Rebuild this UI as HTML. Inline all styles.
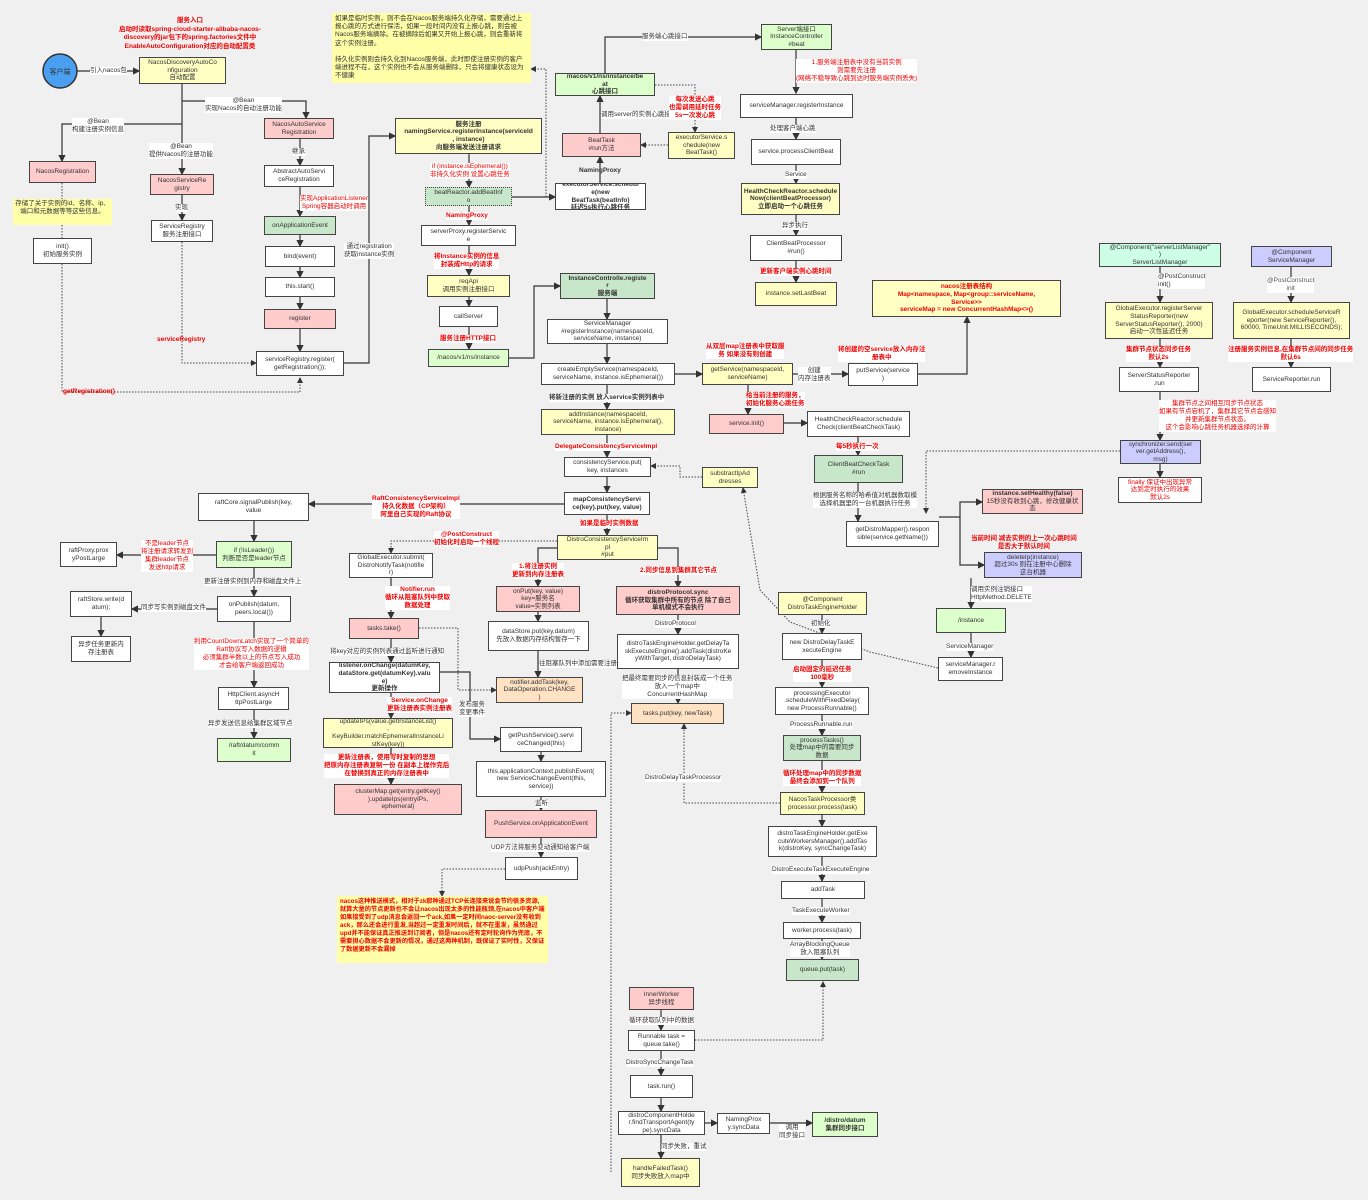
<!DOCTYPE html>
<html><head><meta charset="utf-8">
<style>
html,body{margin:0;padding:0}
body{width:1368px;height:1200px;background:#f0f0f0;position:relative;overflow:hidden;font-family:"Liberation Sans","Noto Sans CJK SC",sans-serif;}
.b{position:absolute;box-sizing:border-box;border:1.5px solid #444;background:#fff;display:flex;align-items:center;justify-content:center;text-align:center;font-size:6.5px;line-height:7.6px;color:#333;overflow:hidden;padding:0 1px;word-break:break-all}
.y{background:#ffffc4}.p{background:#ffcccc}.g{background:#c8e6c9}.lg{background:#ddffcc}.bl{background:#ccccff}.m{background:#ccffe6}.o{background:#ffe2c4}
.bd{font-weight:bold}
.l{position:absolute;font-size:6.5px;line-height:8px;color:#333;text-align:center;background:#fff;white-space:nowrap}
.r{color:#e00;font-weight:bold}
.n{position:absolute;background:#ffffa8;font-size:6.5px;line-height:8.2px;color:#333;padding:2px 3px;box-sizing:border-box}
svg{position:absolute;left:0;top:0}
</style></head><body>
<svg width="1368" height="1200">
<defs><marker id="a" markerWidth="6" markerHeight="6" refX="5" refY="3" orient="auto"><path d="M0,0 L6,3 L0,6 z" fill="#333"/></marker></defs>
<g fill="none" stroke="#333" stroke-width="1.2" marker-end="url(#a)">
<path d="M77,71 H139"/><path d="M182,84 V174"/><path d="M182,101 H306 V118"/><path d="M182,124 H62 V161"/>
<path d="M182,195 V220"/><path d="M300,139 V165"/><path d="M300,187 V216"/><path d="M300,235 V246"/><path d="M300,267 V277"/><path d="M300,297 V309"/><path d="M300,329 V351"/>
<path d="M344,363 H369 V136 H395"/><path d="M469,154 V187"/><path d="M469,206 V225"/><path d="M469,246 V275"/><path d="M469,297 V306"/><path d="M469,327 V349"/>
<path d="M509,358 H534 V286 H560"/><path d="M512,197 H555"/><path d="M600,183 V157"/><path d="M600,133 V96"/><path d="M605,73 V37 H761"/>
<path d="M796,50 V93"/><path d="M796,118 V139"/><path d="M796,165 V183"/><path d="M796,215 V235"/><path d="M796,261 V282"/>
<path d="M607,299 V319"/><path d="M607,344 V363"/><path d="M607,385 V409"/><path d="M607,435 V457"/><path d="M607,477 V492"/><path d="M607,515 V535"/>
<path d="M675,374 H702"/><path d="M793,374 H848"/><path d="M918,374 H967 V317"/><path d="M748,385 V414"/><path d="M784,423 H807"/><path d="M858,437 V455"/><path d="M858,483 V521"/>
<path d="M939,517 H960 V502 H982"/><path d="M960,517 V565 H984"/><path d="M971,578 V608"/><path d="M971,633 V657"/>
<path d="M1160,267 V302"/><path d="M1160,339 V367"/><path d="M1160,392 V440"/><path d="M1160,464 V477"/><path d="M1291,267 V302"/><path d="M1291,339 V367"/>
<path d="M566,504 H309"/><path d="M557,548 H538 V586"/><path d="M658,548 H678 V587"/>
<path d="M254,521 V541"/><path d="M216,555 H117"/><path d="M254,568 V596"/><path d="M217,609 H132"/><path d="M101,617 V636"/><path d="M254,622 V687"/><path d="M254,710 V738"/>
<path d="M391,578 V618"/><path d="M391,639 V662"/><path d="M391,693 V718"/><path d="M391,748 V784"/><path d="M440,672 H470 V739 H500"/>
<path d="M538,612 V621"/><path d="M538,651 V677"/><path d="M541,752 V761"/><path d="M541,797 V810"/><path d="M541,838 V857"/>
<path d="M678,615 V634"/><path d="M678,669 V703"/>
<path d="M822,615 V633"/><path d="M822,660 V687"/><path d="M822,715 V735"/><path d="M822,761 V792"/><path d="M822,815 V826"/><path d="M822,857 V881"/><path d="M822,899 V922"/><path d="M822,939 V959"/>
<path d="M661,1010 V1030"/><path d="M661,1051 V1075"/><path d="M661,1098 V1111"/><path d="M661,1135 V1158"/><path d="M705,1123 H717"/><path d="M770,1123 H812"/>
</g>
<g fill="none" stroke="#444" stroke-width="1" stroke-dasharray="1.5,1.5" marker-end="url(#a)">
<path d="M62,183 V392 H300 V378"/><path d="M182,242 V363 H256"/><path d="M546,197 V69 H531"/>
<path d="M655,85 H695 V132"/><path d="M668,145 H641"/>
<path d="M1120,451 H926 V513"/><path d="M702,477 H680 V466 H651"/><path d="M938,668 L870,652 L790,622 L760,590 L743,488"/>
<path d="M557,541 H391 V553"/><path d="M419,628 H458 V690 H496"/><path d="M505,869 H442 V896"/>
<path d="M611,1172 V713 H631"/><path d="M780,803 H684 V724"/><path d="M695,1040 H823 V982"/>
</g>
<circle cx="60" cy="71" r="17" fill="#4a9ff0" stroke="#333" stroke-width="1.5"/>
<text x="60" y="74" font-size="7" text-anchor="middle" fill="#333" font-family="Liberation Sans, Noto Sans CJK SC, sans-serif">客户端</text>
</svg>

<div class="l r" style="left:110px;top:17px;width:160px;background:none;line-height:8.7px">服务入口<br>启动时读取spring-cloud-starter-alibaba-nacos-<br>discovery的jar包下的spring.factories文件中<br>EnableAutoConfiguration对应的自动配置类</div>
<div class="l" style="left:90px;top:67px">引入nacos包</div>
<div class="b y" style="left:139px;top:57px;width:87px;height:27px">NacosDiscoveryAutoCo<br>nfiguration<br>自动配置</div>
<div class="l" style="left:205px;top:97px">@Bean<br>实现Nacos的自动注册功能</div>
<div class="l" style="left:72px;top:118px">@Bean<br>构建注册实例信息</div>
<div class="l" style="left:149px;top:143px">@Bean<br>提供Nacos的注册功能</div>
<div class="b p" style="left:29px;top:161px;width:67px;height:22px">NacosRegistration</div>
<div class="n" style="left:13px;top:199px;width:99px;height:26px;text-align:center;padding:1px">存储了关于实例的id、名称、ip、端口和元数据等等这些信息。</div>
<div class="b" style="left:33px;top:238px;width:59px;height:26px">init()<br>初始服务实例</div>
<div class="b p" style="left:150px;top:174px;width:64px;height:21px">NacosServiceRe<br>gistry</div>
<div class="l" style="left:175px;top:204px">实现</div>
<div class="b" style="left:151px;top:220px;width:62px;height:22px">ServiceRegistry<br>服务注册接口</div>
<div class="b p" style="left:264px;top:118px;width:70px;height:21px">NacosAutoService<br>Registration</div>
<div class="l" style="left:292px;top:148px">继承</div>
<div class="b" style="left:264px;top:165px;width:70px;height:22px">AbstractAutoServi<br>ceRegistration</div>
<div class="l" style="left:300px;top:195px;color:#e00">实现ApplicationListener<br>Spring容器启动时调用</div>
<div class="b g" style="left:264px;top:216px;width:72px;height:19px">onApplicationEvent</div>
<div class="b" style="left:265px;top:246px;width:70px;height:21px">bind(event)</div>
<div class="b" style="left:265px;top:277px;width:70px;height:20px">this.start()</div>
<div class="b p" style="left:264px;top:309px;width:72px;height:20px">register</div>
<div class="l" style="left:344px;top:243px">通过registration<br>获取instance实例</div>
<div class="l r" style="left:157px;top:336px;background:none">serviceRegistry</div>
<div class="b" style="left:256px;top:351px;width:88px;height:25px">serviceRegistry.register(<br>getRegistration());</div>
<div class="l r" style="left:63px;top:388px;background:none">getRegistration()</div>

<div class="n" style="left:332px;top:13px;width:199px;height:70px">如果是临时实例，则不会在Nacos服务端持久化存储，需要通过上报心跳的方式进行保活，如果一段时间内没有上报心跳，则会被Nacos服务端摘除。在被摘除后如果又开始上报心跳，则会重新将这个实例注册。<br><br>持久化实例则会持久化到Nacos服务端，此时即使注册实例的客户端进程不在，这个实例也不会从服务端删除，只会将健康状态设为不健康</div>
<div class="b y bd" style="left:395px;top:118px;width:147px;height:36px">服务注册<br>namingService.registerInstance(serviceId<br>, instance)<br>向服务端发送注册请求</div>
<div class="l" style="left:430px;top:163px;color:#e00">if (instance.isEphemeral())<br>非持久化实例 设置心跳任务</div>
<div class="b g" style="left:425px;top:187px;width:87px;height:19px;border-style:dotted">beatReactor.addBeatInf<br>o</div>
<div class="l r" style="left:446px;top:212px">NamingProxy</div>
<div class="b" style="left:421px;top:225px;width:95px;height:21px">serverProxy.registerServic<br>e</div>
<div class="l r" style="left:434px;top:253px">将Instance实例的信息<br>封装成Http的请求</div>
<div class="b y" style="left:427px;top:275px;width:83px;height:22px">reqApi<br>调用实例注册接口</div>
<div class="b" style="left:439px;top:306px;width:59px;height:21px">callServer</div>
<div class="l r" style="left:440px;top:335px">服务注册HTTP接口</div>
<div class="b lg" style="left:428px;top:349px;width:81px;height:18px">/nacos/v1/ns/instance</div>

<div class="b lg bd" style="left:555px;top:73px;width:100px;height:23px">/nacos/v1/ns/instance/be<br>at<br>心跳接口</div>
<div class="l" style="left:642px;top:33px">服务端心跳接口</div>
<div class="l" style="left:601px;top:111px">调用server的实例心跳接口</div>
<div class="l r" style="left:669px;top:96px">每次发送心跳<br>也需调用延时任务<br>5s一次发心跳</div>
<div class="b p" style="left:562px;top:133px;width:79px;height:24px">BeatTask<br>#run方法</div>
<div class="b y" style="left:668px;top:132px;width:67px;height:27px">executorService.s<br>chedule(new<br>BeatTask()</div>
<div class="l bd" style="left:579px;top:167px;background:none">NamingProxy</div>
<div class="b bd" style="left:555px;top:183px;width:91px;height:27px">executorService.schedul<br>e(new<br>BeatTask(beatInfo)<br>延迟5s执行心跳任务</div>
<div class="b lg" style="left:761px;top:24px;width:71px;height:26px">Server端接口<br>InstanceController<br>#beat</div>
<div class="l" style="left:796px;top:59px;color:#e00">1.服务端注册表中没有当前实例<br>则需要先注册<br>(网络不稳导致心跳到达时服务端实例丢失)</div>
<div class="b" style="left:740px;top:94px;width:113px;height:24px">serviceManager.registerInstance</div>
<div class="l" style="left:770px;top:125px">处理客户端心跳</div>
<div class="b" style="left:751px;top:139px;width:90px;height:26px">service.processClientBeat</div>
<div class="l" style="left:785px;top:171px">Service</div>
<div class="b y bd" style="left:741px;top:183px;width:99px;height:32px">HealthCheckReactor.schedule<br>Now(clientBeatProcessor)<br>立即启动一个心跳任务</div>
<div class="l" style="left:782px;top:222px">异步执行</div>
<div class="b" style="left:750px;top:235px;width:92px;height:26px">ClientBeatProcessor<br>#run()</div>
<div class="l r" style="left:760px;top:268px">更新客户端实例心跳时间</div>
<div class="b y" style="left:755px;top:282px;width:82px;height:24px">instance.setLastBeat</div>

<div class="b g bd" style="left:560px;top:273px;width:95px;height:26px">InstanceControlle.registe<br>r<br>服务端</div>
<div class="b" style="left:547px;top:319px;width:121px;height:25px">ServiceManager<br>#registerInstance(namespaceId,<br>serviceName, instance)</div>
<div class="b" style="left:541px;top:363px;width:134px;height:22px">createEmptyService(namespaceId,<br>serviceName, instance.isEphemeral())</div>
<div class="l" style="left:549px;top:394px;font-weight:bold">将新注册的实例 放入service实例列表中</div>
<div class="b y" style="left:541px;top:409px;width:134px;height:26px">addInstance(namespaceId,<br>serviceName, instance.isEphemeral(),<br>instance)</div>
<div class="l r" style="left:555px;top:443px">DelegateConsistencyServiceImpl</div>
<div class="b" style="left:564px;top:457px;width:87px;height:20px">consistencyService.put(<br>key, instances</div>
<div class="b bd" style="left:564px;top:492px;width:86px;height:23px">mapConsistencyServi<br>ce(key).put(key, value)</div>
<div class="l r" style="left:580px;top:520px">如果是临时实例数据</div>
<div class="b y" style="left:557px;top:535px;width:101px;height:25px">DistroConsistencyServiceIm<br>pl<br>#put</div>
<div class="b y" style="left:702px;top:467px;width:56px;height:21px">substractIpAd<br>dresses</div>
<div class="l r" style="left:706px;top:343px">从双层map注册表中获取服<br>务 如果没有则创建</div>
<div class="b y" style="left:702px;top:363px;width:91px;height:22px">getService(namespaceId,<br>serviceName)</div>
<div class="l" style="left:798px;top:367px">创建<br>内存注册表</div>
<div class="l r" style="left:838px;top:346px">将创建的空service放入内存注<br>册表中</div>
<div class="b" style="left:848px;top:363px;width:70px;height:23px">putService(service<br>)</div>
<div class="b y r" style="left:872px;top:280px;width:189px;height:37px">nacos注册表结构<br>Map&lt;namespace, Map&lt;group::serviceName,<br>Service&gt;&gt;<br>serviceMap = new ConcurrentHashMap&lt;&gt;()</div>
<div class="l r" style="left:746px;top:392px">给当前注册的服务，<br>初始化服务心跳任务</div>
<div class="b p" style="left:709px;top:414px;width:75px;height:20px">service.init()</div>
<div class="b" style="left:807px;top:411px;width:103px;height:26px">HealthCheckReactor.schedule<br>Check(clientBeatCheckTask)</div>
<div class="l r" style="left:836px;top:443px">每5秒执行一次</div>
<div class="b g" style="left:814px;top:455px;width:89px;height:28px">ClientBeatCheckTask<br>#run</div>
<div class="l" style="left:813px;top:492px">根据服务名称的哈希值对机器数取模<br>选择机器里的一台机器执行任务</div>
<div class="b" style="left:846px;top:521px;width:93px;height:26px">getDistroMapper().respon<br>sible(service.getName())</div>
<div class="b p" style="left:982px;top:489px;width:101px;height:25px"><span><b>instance.setHealthy(false)</b><br>15秒没有收到心跳，修改健康状态</span></div>
<div class="l r" style="left:971px;top:535px;background:none">当前时间 减去实例的上一次心跳时间<br>是否大于默认时间</div>
<div class="b bl" style="left:984px;top:552px;width:98px;height:26px">deleteIp(instance)<br>超过30s 则在注册中心删除<br>这台机器</div>
<div class="l" style="left:971px;top:586px;text-align:left">调用实例注销接口<br>HttpMethod.DELETE</div>
<div class="b lg" style="left:936px;top:608px;width:70px;height:25px">/instance</div>
<div class="l" style="left:946px;top:643px">ServiceManager</div>
<div class="b" style="left:938px;top:657px;width:65px;height:24px">serviceManager.r<br>emoveInstance</div>

<div class="b m" style="left:1099px;top:243px;width:122px;height:24px">@Component("serverListManager"<br>)<br>ServerListManager</div>
<div class="l" style="left:1158px;top:273px;text-align:left">@PostConstruct<br>init()</div>
<div class="b y" style="left:1105px;top:302px;width:108px;height:37px">GlobalExecutor.registerServer<br>StatusReporter(new<br>ServerStatusReporter(), 2000)<br>启动一次性延迟任务</div>
<div class="l r" style="left:1126px;top:346px">集群节点状态同步任务<br>默认2s</div>
<div class="b" style="left:1119px;top:367px;width:80px;height:25px">ServerStatusReporter<br>.run</div>
<div class="l" style="left:1159px;top:400px;color:#e00">集群节点之间相互同步节点状态<br>如果有节点宕机了，集群其它节点会感知<br>并更新集群节点状态。<br>这个会影响心跳任务机器选择的计算</div>
<div class="b bl" style="left:1120px;top:440px;width:81px;height:24px">synchronizer.send(ser<br>ver.getAddress(),<br>msg)</div>
<div class="b" style="left:1118px;top:477px;width:84px;height:26px;color:#e00">finally 保证中出现异常<br>达到定时执行的效果<br>默认2s</div>
<div class="b bl" style="left:1251px;top:246px;width:81px;height:21px">@Component<br>ServiceManager</div>
<div class="l" style="left:1267px;top:277px;color:#555">@PostConstruct<br>init</div>
<div class="b y" style="left:1233px;top:302px;width:117px;height:37px">GlobalExecutor.scheduleServiceR<br>eporter(new ServiceReporter(),<br>60000, TimeUnit.MILLISECONDS);</div>
<div class="l r" style="left:1228px;top:346px">注册服务实例信息,在集群节点间的同步任务<br>默认6s</div>
<div class="b" style="left:1252px;top:367px;width:79px;height:25px">ServiceReporter.run</div>

<div class="b" style="left:198px;top:493px;width:111px;height:28px">raftCore.signalPublish(key,<br>value</div>
<div class="l r" style="left:372px;top:495px">RaftConsistencyServiceImpl<br>持久化数据（CP架构）<br>阿里自己实现的Raft协议</div>
<div class="b" style="left:60px;top:542px;width:57px;height:25px">raftProxy.prox<br>yPostLarge</div>
<div class="l" style="left:141px;top:540px;color:#e00">不是leader节点<br>将注册请求转发到<br>集群leader节点<br>发送http请求</div>
<div class="b lg" style="left:216px;top:541px;width:76px;height:27px">if (!isLeader())<br>判断是否是leader节点</div>
<div class="l" style="left:204px;top:578px">更新注册实例到内存和磁盘文件上</div>
<div class="b" style="left:70px;top:591px;width:62px;height:26px">raftStore.write(d<br>atum);</div>
<div class="l" style="left:141px;top:604px">同步写实例到磁盘文件</div>
<div class="b" style="left:217px;top:596px;width:74px;height:26px">onPublish(datum,<br>peers.local())</div>
<div class="b" style="left:71px;top:636px;width:60px;height:26px">异步任务更新内<br>存注册表</div>
<div class="l" style="left:194px;top:638px;color:#e00">利用CountDownLatch实现了一个简单的<br>Raft协议写入数据的逻辑<br>必须集群半数以上的节点写入成功<br>才会给客户端返回成功</div>
<div class="b" style="left:218px;top:687px;width:71px;height:23px">HttpClient.asyncH<br>ttpPostLarge</div>
<div class="l" style="left:208px;top:720px">异步发送信息给集群区域节点</div>
<div class="b lg" style="left:217px;top:738px;width:74px;height:24px">/raft/datum/comm<br>it</div>

<div class="l r" style="left:434px;top:531px">@PostConstruct<br>初始化时启动一个线程</div>
<div class="b" style="left:349px;top:553px;width:84px;height:25px">GlobalExecutor.submit(<br>DistroNotifyTask(notifie<br>r)</div>
<div class="l r" style="left:385px;top:586px">Notifier.run<br>循环从阻塞队列中获取<br>数据处理</div>
<div class="b p" style="left:349px;top:618px;width:70px;height:21px">tasks.take()</div>
<div class="l" style="left:330px;top:648px">将key对应的实例列表通过监听进行通知</div>
<div class="b bd" style="left:329px;top:662px;width:111px;height:31px">listener.onChange(datumKey,<br>dataStore.get(datumKey).valu<br>e)<br>更新操作</div>
<div class="l r" style="left:387px;top:697px">Service.onChange<br>更新注册表实例注册表</div>
<div class="l" style="left:459px;top:701px">发布服务<br>变更事件</div>
<div class="b y" style="left:323px;top:718px;width:130px;height:30px">updateIPs(value.getInstanceList()<br>,<br>KeyBuilder.matchEphemeralInstanceLi<br>stKey(key))</div>
<div class="l r" style="left:324px;top:754px">更新注册表，使用写时复制的思想<br>把原内存注册表复制一份 在副本上操作完后<br>在替换到真正的内存注册表中</div>
<div class="b p" style="left:334px;top:784px;width:128px;height:31px">clusterMap.get(entry.getKey()<br>).updateIps(entryIPs,<br>ephemeral)</div>
<div class="l r" style="left:512px;top:563px">1.将注册实例<br>更新到内存注册表</div>
<div class="b p" style="left:496px;top:586px;width:84px;height:26px">onPut(key, value)<br>key=服务名<br>value=实例列表</div>
<div class="b" style="left:488px;top:621px;width:101px;height:30px">dataStore.put(key,datum)<br>先放入数据内存结构暂存一下</div>
<div class="l" style="left:539px;top:660px">往阻塞队列中添加需要注册</div>
<div class="b o" style="left:496px;top:677px;width:87px;height:26px">notifier.addTask(key,<br>DataOperation.CHANGE<br>)</div>
<div class="b" style="left:500px;top:727px;width:82px;height:25px">getPushService().servi<br>ceChanged(this)</div>
<div class="b" style="left:476px;top:761px;width:130px;height:36px">this.applicationContext.publishEvent(<br>new ServiceChangeEvent(this,<br>service))</div>
<div class="l" style="left:535px;top:800px">监听</div>
<div class="b p" style="left:485px;top:810px;width:112px;height:28px">PushService.onApplicationEvent</div>
<div class="l" style="left:491px;top:844px">UDP方法将服务变动通知给客户端</div>
<div class="b" style="left:505px;top:857px;width:73px;height:23px">udpPush(ackEntry)</div>
<div class="n" style="left:337px;top:896px;width:211px;height:67px;color:#e00;font-weight:bold;font-size:6.2px;line-height:8px">nacos这种推送模式，相对于zk那种通过TCP长连接来说会节约很多资源,就算大量的节点更新也不会让nacos出现太多的性能瓶颈,在nacos中客户端如果接受到了udp消息会返回一个ack,如果一定时间naoc-server没有收到ack，那么还会进行重发,当超过一定重发时间后，就不在重发，虽然通过upd并不能保证真正推送到订阅者，但是nacos还有定时轮询作为兜底，不需要担心数据不会更新的情况，通过这两种机制，既保证了实时性，又保证了数据更新不会漏掉</div>

<div class="l r" style="left:640px;top:567px">2.同步信息到集群其它节点</div>
<div class="b p bd" style="left:616px;top:586px;width:124px;height:29px">distroProtocol.sync<br>循环获取集群中所有的节点 除了自己<br>单机模式不会执行</div>
<div class="l" style="left:655px;top:620px">DistroProtocol</div>
<div class="b" style="left:617px;top:634px;width:122px;height:35px">distroTaskEngineHolder.getDelayTa<br>skExecuteEngine().addTask(distroKe<br>yWithTarget, distroDelayTask)</div>
<div class="l" style="left:622px;top:675px">把最终需要同步的信息封装成一个任务<br>放入一个map中<br>ConcurrentHashMap</div>
<div class="b o" style="left:631px;top:703px;width:93px;height:21px">tasks.put(key, newTask)</div>
<div class="l" style="left:645px;top:774px">DistroDelayTaskProcessor</div>
<div class="b y" style="left:778px;top:592px;width:89px;height:23px">@Component<br>DistroTaskEngineHolder</div>
<div class="l" style="left:811px;top:620px">初始化</div>
<div class="b" style="left:782px;top:633px;width:80px;height:27px">new DistroDelayTaskE<br>xecuteEngine</div>
<div class="l r" style="left:793px;top:666px">启动固定的延迟任务<br>100毫秒</div>
<div class="b" style="left:775px;top:687px;width:94px;height:28px">processingExecutor<br>.scheduleWithFixedDelay(<br>new ProcessRunnable()</div>
<div class="l" style="left:790px;top:721px">ProcessRunnable.run</div>
<div class="b g" style="left:783px;top:735px;width:78px;height:26px">processTasks()<br>处理map中的需要同步<br>数据</div>
<div class="l r" style="left:783px;top:770px">循环处理map中的同步数据<br>最终会添加到一个队列</div>
<div class="b y" style="left:780px;top:792px;width:85px;height:23px">NacosTaskProcessor类<br>processor.process(task)</div>
<div class="b" style="left:768px;top:826px;width:109px;height:31px">distroTaskEngineHolder.getExe<br>cuteWorkersManager().addTas<br>k(distroKey, syncChangeTask)</div>
<div class="l" style="left:772px;top:866px">DistroExecuteTaskExecuteEngine</div>
<div class="b" style="left:781px;top:881px;width:84px;height:18px">addTask</div>
<div class="l" style="left:792px;top:907px">TaskExecuteWorker</div>
<div class="b" style="left:783px;top:922px;width:78px;height:17px">worker.process(task)</div>
<div class="l" style="left:790px;top:941px">ArrayBlockingQueue<br>放入阻塞队列</div>
<div class="b g" style="left:786px;top:959px;width:73px;height:22px">queue.put(task)</div>

<div class="b p" style="left:629px;top:987px;width:65px;height:23px">InnerWorker<br>异步线程</div>
<div class="l" style="left:629px;top:1017px">循环获取队列中的数据</div>
<div class="b" style="left:628px;top:1030px;width:67px;height:21px">Runnable task =<br>queue.take()</div>
<div class="l" style="left:626px;top:1059px">DistroSyncChangeTask</div>
<div class="b" style="left:630px;top:1075px;width:63px;height:23px">task.run()</div>
<div class="b" style="left:618px;top:1111px;width:87px;height:24px">distroComponentHolde<br>r.findTransportAgent(ty<br>pe).syncData</div>
<div class="b" style="left:717px;top:1113px;width:53px;height:21px">NamingProx<br>y.syncData</div>
<div class="l" style="left:779px;top:1124px">调用<br>同步接口</div>
<div class="b lg bd" style="left:812px;top:1112px;width:66px;height:25px">/distro/datum<br>集群同步接口</div>
<div class="l" style="left:661px;top:1143px">同步失败，重试</div>
<div class="b y" style="left:621px;top:1158px;width:79px;height:29px">handleFailedTask()<br>同步失败放入map中</div>
</body></html>
